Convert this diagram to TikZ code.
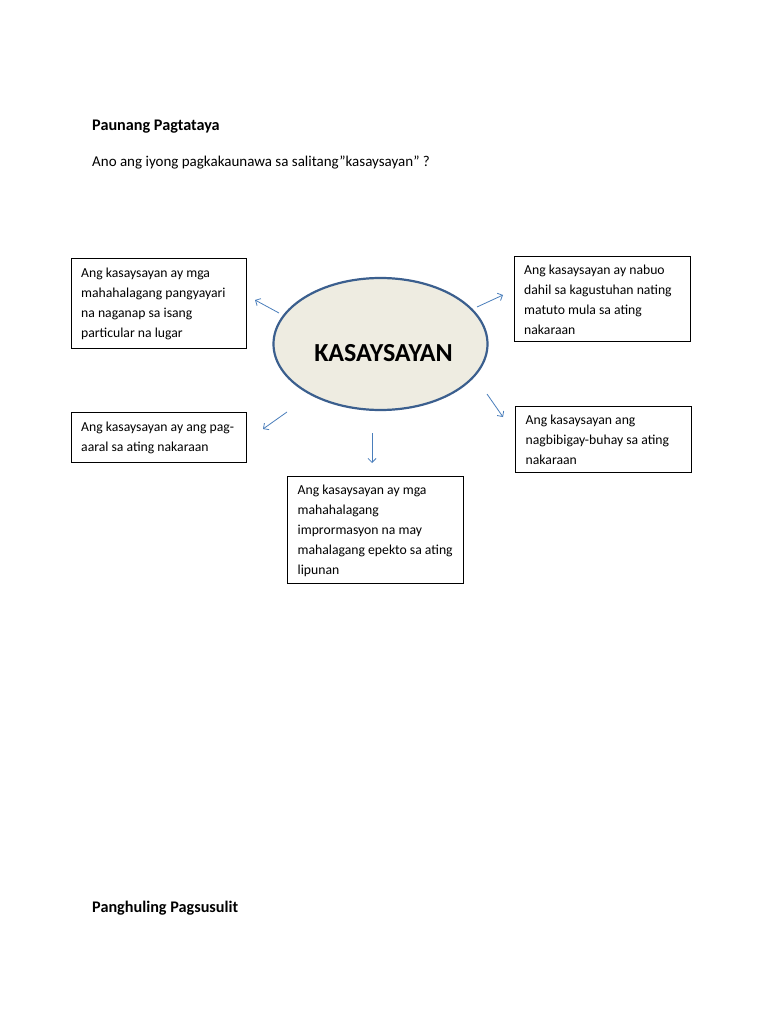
\documentclass[tikz,border=0pt]{standalone}
\usepackage{fontspec}
\setmainfont{Carlito}
\usetikzlibrary{arrows.meta,shapes.geometric}
\definecolor{arrowblue}{HTML}{4A7EBB}
\definecolor{ellborder}{HTML}{3B5F8E}
\definecolor{ellfill}{HTML}{EEECE1}
\begin{document}
\begin{tikzpicture}[x=1pt,y=-1pt,
  body/.style={font=\fontsize{13.7}{20}\selectfont},
  box/.style={draw=black, line width=0.9pt, anchor=north west, inner sep=0pt},
  boxtext/.style={body, align=left, anchor=west, inner sep=0pt},
  conn/.style={draw=arrowblue, line width=0.8pt, -{Straight Barb[length=4pt,width=8pt]}},
  title/.style={anchor=west, font=\fontsize{16.2}{19}\selectfont\bfseries, inner sep=0pt}
]
\path[use as bounding box, fill=white] (0,0) rectangle (768,1024);

\node[title] (t1) at (92,127) {Paunang Pagtataya};
\node[anchor=west, font=\fontsize{15}{18}\selectfont, inner sep=0pt] (q) at (92,163) {Ano ang iyong pagkakaunawa sa salitang”kasaysayan” ?};
\node[title] (t2) at (92,908) {Panghuling Pagsusulit};

\node[ellipse, draw=ellborder, fill=ellfill, line width=2.2pt, minimum width=214pt, minimum height=132pt, inner sep=0pt] (c) at (380.5,344) {};
\node[font=\fontsize{26}{30}\selectfont\bfseries, inner sep=0pt] (ct) at (383.5,353) {KASAYSAYAN};

\node[box, minimum width=175pt, minimum height=90pt] (b1) at (70.5,257.5) {};
\node[boxtext] (b1t) at ([xshift=10.5pt,yshift=-1pt]b1.west) {Ang kasaysayan ay mga\\mahahalagang pangyayari\\na naganap sa isang\\particular na lugar};

\node[box, minimum width=176pt, minimum height=85pt] (b2) at (513.5,255.5) {};
\node[boxtext] (b2t) at ([xshift=10.5pt,yshift=-1pt]b2.west) {Ang kasaysayan ay nabuo\\dahil sa kagustuhan nating\\matuto mula sa ating\\nakaraan};

\node[box, minimum width=175pt, minimum height=50pt] (b3) at (70.5,411.5) {};
\node[boxtext] (b3t) at ([xshift=10.5pt,yshift=-1pt]b3.west) {Ang kasaysayan ay ang pag-\\aaral sa ating nakaraan};

\node[box, minimum width=176pt, minimum height=66pt] (b4) at (515,405.5) {};
\node[boxtext] (b4t) at ([xshift=10.5pt,yshift=-1pt]b4.west) {Ang kasaysayan ang\\nagbibigay-buhay sa ating\\nakaraan};

\node[box, minimum width=176pt, minimum height=107pt] (b5) at (287,475.5) {};
\node[boxtext] (b5t) at ([xshift=10.5pt,yshift=-1pt]b5.west) {Ang kasaysayan ay mga\\mahahalagang\\imprormasyon na may\\mahalagang epekto sa ating\\lipunan};

\coordinate (a1s) at (279,313); \coordinate (a1e) at (255,300);
\coordinate (a2s) at (477,307); \coordinate (a2e) at (503,295);
\coordinate (a3s) at (287,412); \coordinate (a3e) at (263,429);
\coordinate (a4s) at (487,394); \coordinate (a4e) at (503,417);
\coordinate (a5s) at (372,433); \coordinate (a5e) at (372,463);
\draw[conn] (a1s) -- (a1e);
\draw[conn] (a2s) -- (a2e);
\draw[conn] (a3s) -- (a3e);
\draw[conn] (a4s) -- (a4e);
\draw[conn] (a5s) -- (a5e);
\end{tikzpicture}
\end{document}
